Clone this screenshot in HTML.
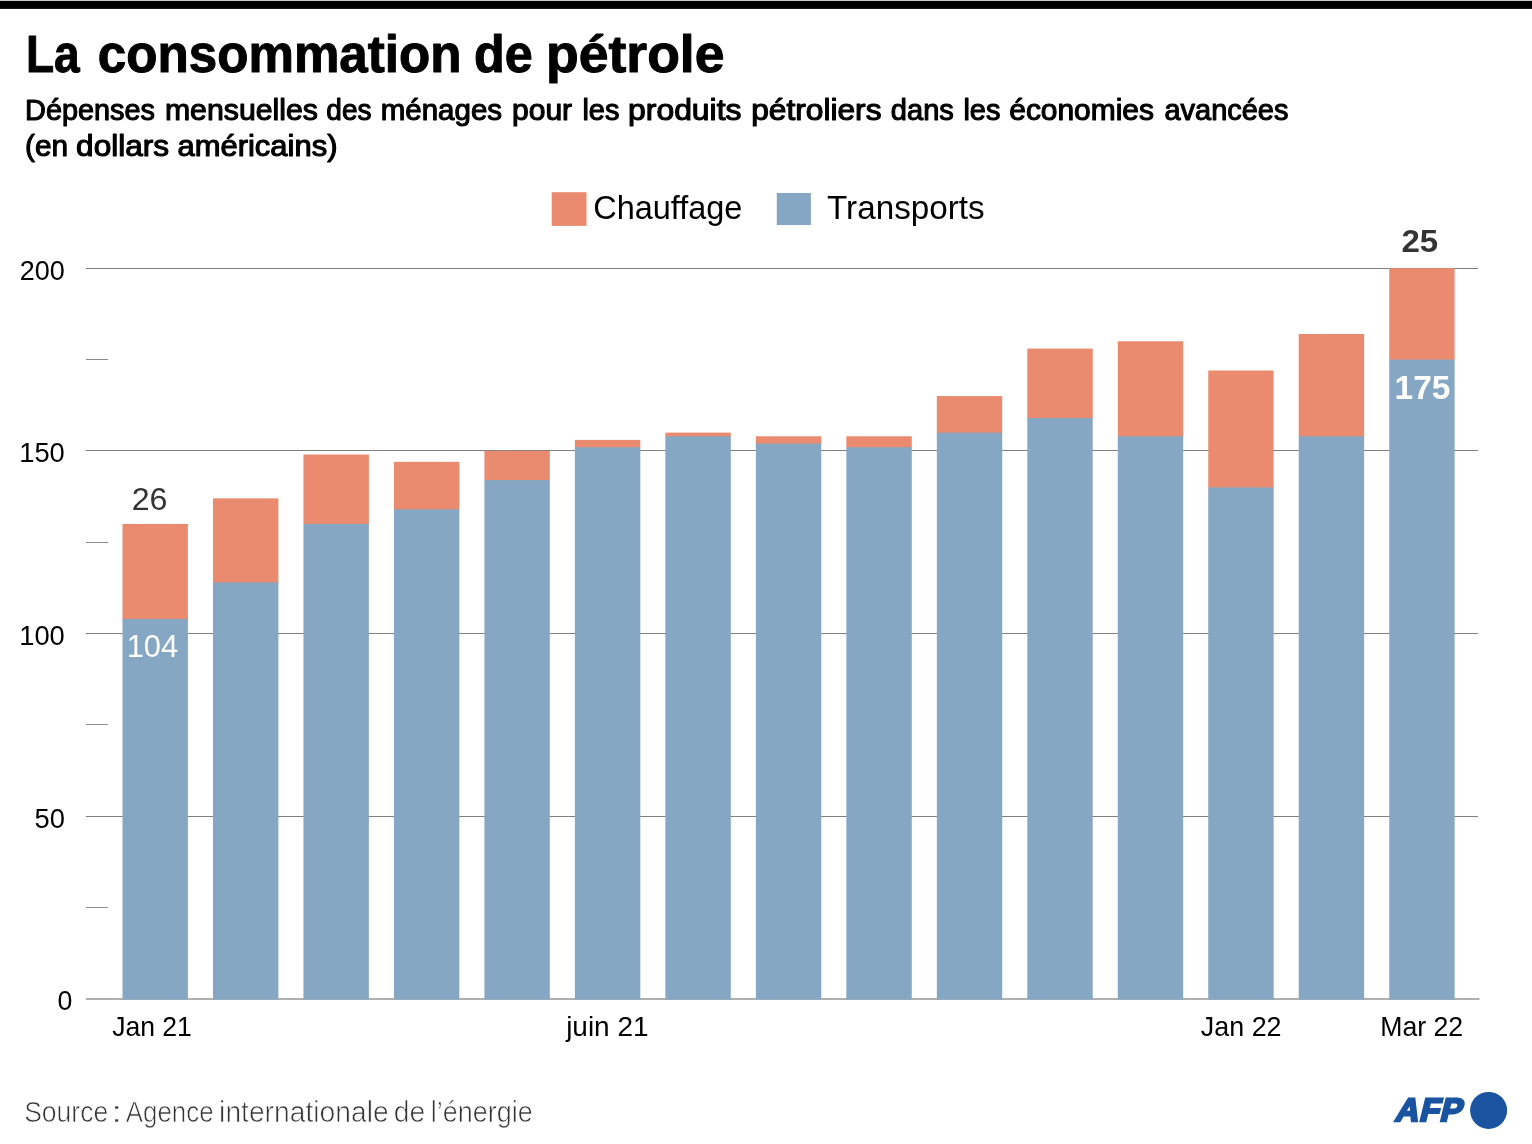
<!DOCTYPE html>
<html lang="fr">
<head>
<meta charset="utf-8">
<title>La consommation de pétrole</title>
<style>
html,body{margin:0;padding:0;background:#fff;}
body{width:1532px;height:1144px;overflow:hidden;position:relative;}
svg{position:absolute;left:0;top:0;display:block;}
text{font-family:"Liberation Sans",sans-serif;}
.thin{stroke:#fff;stroke-width:0.7px;}
</style>
</head>
<body>
<svg width="1532" height="1144" viewBox="0 0 1532 1144">
<rect x="0" y="0" width="1532" height="1144" fill="#fff"/>
<!-- top rule -->
<rect x="0" y="0.8" width="1532" height="8.1" fill="#000"/>

<!-- headings -->
<text y="72.30" font-size="51.59" font-weight="bold" font-style="normal" fill="#000"  stroke="#000" stroke-width="1.0" stroke-linejoin="round"><tspan x="25.94" textLength="53.72" lengthAdjust="spacingAndGlyphs">La</tspan> <tspan x="97.87" textLength="363.64" lengthAdjust="spacingAndGlyphs">consommation</tspan> <tspan x="473.99" textLength="58.73" lengthAdjust="spacingAndGlyphs">de</tspan> <tspan x="545.99" textLength="178.51" lengthAdjust="spacingAndGlyphs">pétrole</tspan></text>
<text y="120.45" font-size="28.84" font-weight="normal" font-style="normal" fill="#000"  stroke="#000" stroke-width="1.1" stroke-linejoin="round"><tspan x="25.14" textLength="129.87" lengthAdjust="spacingAndGlyphs">Dépenses</tspan> <tspan x="164.93" textLength="153.02" lengthAdjust="spacingAndGlyphs">mensuelles</tspan> <tspan x="326.33" textLength="45.16" lengthAdjust="spacingAndGlyphs">des</tspan> <tspan x="380.78" textLength="121.25" lengthAdjust="spacingAndGlyphs">ménages</tspan> <tspan x="511.95" textLength="60.20" lengthAdjust="spacingAndGlyphs">pour</tspan> <tspan x="582.41" textLength="37.01" lengthAdjust="spacingAndGlyphs">les</tspan> <tspan x="628.04" textLength="113.47" lengthAdjust="spacingAndGlyphs">produits</tspan> <tspan x="751.25" textLength="130.25" lengthAdjust="spacingAndGlyphs">pétroliers</tspan> <tspan x="890.89" textLength="62.93" lengthAdjust="spacingAndGlyphs">dans</tspan> <tspan x="963.41" textLength="37.01" lengthAdjust="spacingAndGlyphs">les</tspan> <tspan x="1009.25" textLength="144.69" lengthAdjust="spacingAndGlyphs">économies</tspan> <tspan x="1164.49" textLength="123.93" lengthAdjust="spacingAndGlyphs">avancées</tspan></text>
<text y="156.15" font-size="28.84" font-weight="normal" font-style="normal" fill="#000"  stroke="#000" stroke-width="1.1" stroke-linejoin="round"><tspan x="25.06" textLength="43.06" lengthAdjust="spacingAndGlyphs">(en</tspan> <tspan x="76.09" textLength="93.01" lengthAdjust="spacingAndGlyphs">dollars</tspan> <tspan x="177.41" textLength="160.08" lengthAdjust="spacingAndGlyphs">américains)</tspan></text>
<!-- legend -->
<rect x="551.7" y="192.2" width="34.8" height="33.7" fill="#ea8b70"/>
<text transform="translate(593.18 219.40) scale(0.9960 1)" font-size="32.61" font-weight="normal" font-style="normal" fill="#000" >Chauffage</text>
<rect x="776.8" y="193" width="34.1" height="32" fill="#86a7c4"/>
<text transform="translate(827.04 219.30) scale(1.0241 1)" font-size="32.46" font-weight="normal" font-style="normal" fill="#000" >Transports</text>
<!-- grid -->
<line x1="85.8" x2="1478" y1="816.5" y2="816.5" stroke="#808080" stroke-width="1"/>
<line x1="85.8" x2="1478" y1="633.5" y2="633.5" stroke="#808080" stroke-width="1"/>
<line x1="85.8" x2="1478" y1="450.5" y2="450.5" stroke="#808080" stroke-width="1"/>
<line x1="85.8" x2="1478" y1="268.5" y2="268.5" stroke="#808080" stroke-width="1"/>
<line x1="85.8" x2="108" y1="907.5" y2="907.5" stroke="#8c8c8c" stroke-width="1"/>
<line x1="85.8" x2="108" y1="724.5" y2="724.5" stroke="#8c8c8c" stroke-width="1"/>
<line x1="85.8" x2="108" y1="542.5" y2="542.5" stroke="#8c8c8c" stroke-width="1"/>
<line x1="85.8" x2="108" y1="359.5" y2="359.5" stroke="#8c8c8c" stroke-width="1"/>
<rect x="85.8" y="998" width="1393.7" height="2" fill="#b0b0b0"/>
<!-- bars -->
<rect x="122.50" y="523.94" width="65.4" height="95.99" fill="#ea8b70"/>
<rect x="122.50" y="618.94" width="65.4" height="380.66" fill="#86a7c4"/>
<rect x="212.98" y="498.37" width="65.4" height="85.03" fill="#ea8b70"/>
<rect x="212.98" y="582.40" width="65.4" height="417.20" fill="#86a7c4"/>
<rect x="303.46" y="454.53" width="65.4" height="70.42" fill="#ea8b70"/>
<rect x="303.46" y="523.94" width="65.4" height="475.66" fill="#86a7c4"/>
<rect x="393.94" y="461.84" width="65.4" height="48.50" fill="#ea8b70"/>
<rect x="393.94" y="509.33" width="65.4" height="490.27" fill="#86a7c4"/>
<rect x="484.42" y="450.88" width="65.4" height="30.23" fill="#ea8b70"/>
<rect x="484.42" y="480.10" width="65.4" height="519.50" fill="#86a7c4"/>
<rect x="574.90" y="439.91" width="65.4" height="8.31" fill="#ea8b70"/>
<rect x="574.90" y="447.22" width="65.4" height="552.38" fill="#86a7c4"/>
<rect x="665.38" y="432.61" width="65.4" height="4.65" fill="#ea8b70"/>
<rect x="665.38" y="436.26" width="65.4" height="563.34" fill="#86a7c4"/>
<rect x="755.86" y="436.26" width="65.4" height="8.31" fill="#ea8b70"/>
<rect x="755.86" y="443.57" width="65.4" height="556.03" fill="#86a7c4"/>
<rect x="846.34" y="436.26" width="65.4" height="11.96" fill="#ea8b70"/>
<rect x="846.34" y="447.22" width="65.4" height="552.38" fill="#86a7c4"/>
<rect x="936.82" y="396.07" width="65.4" height="37.53" fill="#ea8b70"/>
<rect x="936.82" y="432.61" width="65.4" height="566.99" fill="#86a7c4"/>
<rect x="1027.30" y="348.58" width="65.4" height="70.42" fill="#ea8b70"/>
<rect x="1027.30" y="417.99" width="65.4" height="581.61" fill="#86a7c4"/>
<rect x="1117.78" y="341.27" width="65.4" height="95.99" fill="#ea8b70"/>
<rect x="1117.78" y="436.26" width="65.4" height="563.34" fill="#86a7c4"/>
<rect x="1208.26" y="370.50" width="65.4" height="117.91" fill="#ea8b70"/>
<rect x="1208.26" y="487.41" width="65.4" height="512.19" fill="#86a7c4"/>
<rect x="1298.74" y="333.96" width="65.4" height="103.30" fill="#ea8b70"/>
<rect x="1298.74" y="436.26" width="65.4" height="563.34" fill="#86a7c4"/>
<rect x="1389.22" y="268.20" width="65.4" height="92.34" fill="#ea8b70"/>
<rect x="1389.22" y="359.54" width="65.4" height="640.06" fill="#86a7c4"/>
<!-- y axis labels -->
<text transform="translate(19.75 279.80) scale(0.9942 1)" font-size="27.14" font-weight="normal" font-style="normal" fill="#000" >200</text>
<text transform="translate(19.19 462.48) scale(1.0069 1)" font-size="27.14" font-weight="normal" font-style="normal" fill="#000" >150</text>
<text transform="translate(19.19 645.15) scale(1.0069 1)" font-size="27.14" font-weight="normal" font-style="normal" fill="#000" >100</text>
<text transform="translate(34.51 827.82) scale(1.0063 1)" font-size="27.14" font-weight="normal" font-style="normal" fill="#000" >50</text>
<text transform="translate(57.40 1010.20) scale(0.9850 1)" font-size="27.14" font-weight="normal" font-style="normal" fill="#000" >0</text>
<!-- x axis labels -->
<text transform="translate(112.13 1035.90) scale(0.9843 1)" font-size="27.00" font-weight="normal" font-style="normal" fill="#000" >Jan 21</text>
<text transform="translate(566.14 1035.90) scale(1.0363 1)" font-size="27.00" font-weight="normal" font-style="normal" fill="#000" >juin 21</text>
<text transform="translate(1200.83 1035.90) scale(0.9956 1)" font-size="27.00" font-weight="normal" font-style="normal" fill="#000" >Jan 22</text>
<text transform="translate(1380.16 1035.90) scale(0.9885 1)" font-size="27.00" font-weight="normal" font-style="normal" fill="#000" >Mar 22</text>
<!-- value labels -->
<text transform="translate(131.69 509.60) scale(1.0140 1)" font-size="31.71" font-weight="normal" font-style="normal" fill="#333" >26</text>
<text transform="translate(126.75 657.20) scale(0.9655 1)" font-size="31.88" font-weight="normal" font-style="normal" fill="#fff" >104</text>
<text transform="translate(1401.41 252.00) scale(1.0467 1)" font-size="31.57" font-weight="bold" font-style="normal" fill="#333" >25</text>
<text transform="translate(1394.59 399.20) scale(1.0318 1)" font-size="32.46" font-weight="bold" font-style="normal" fill="#fff" >175</text>
<!-- footer -->
<text y="1121.75" font-size="28.84" font-weight="normal" font-style="normal" fill="#333" class="thin"><tspan x="24.14" textLength="84.12" lengthAdjust="spacingAndGlyphs">Source</tspan> <tspan x="110.73" textLength="11.95" lengthAdjust="spacingAndGlyphs">:</tspan> <tspan x="125.70" textLength="87.94" lengthAdjust="spacingAndGlyphs">Agence</tspan> <tspan x="219.11" textLength="169.51" lengthAdjust="spacingAndGlyphs">internationale</tspan> <tspan x="393.67" textLength="31.56" lengthAdjust="spacingAndGlyphs">de</tspan> <tspan x="430.78" textLength="101.89" lengthAdjust="spacingAndGlyphs">l’énergie</tspan></text>
<text transform="translate(1394.3 1121.45) skewX(-14) scale(1.0 1)" font-size="32.3" font-weight="bold" fill="#1a53a0" stroke="#1a53a0" stroke-width="2.4" stroke-linejoin="miter" x="0 24.3 44.6">AFP</text>
<circle cx="1488.6" cy="1110.4" r="18.5" fill="#1a53a0"/>
</svg>
</body>
</html>
